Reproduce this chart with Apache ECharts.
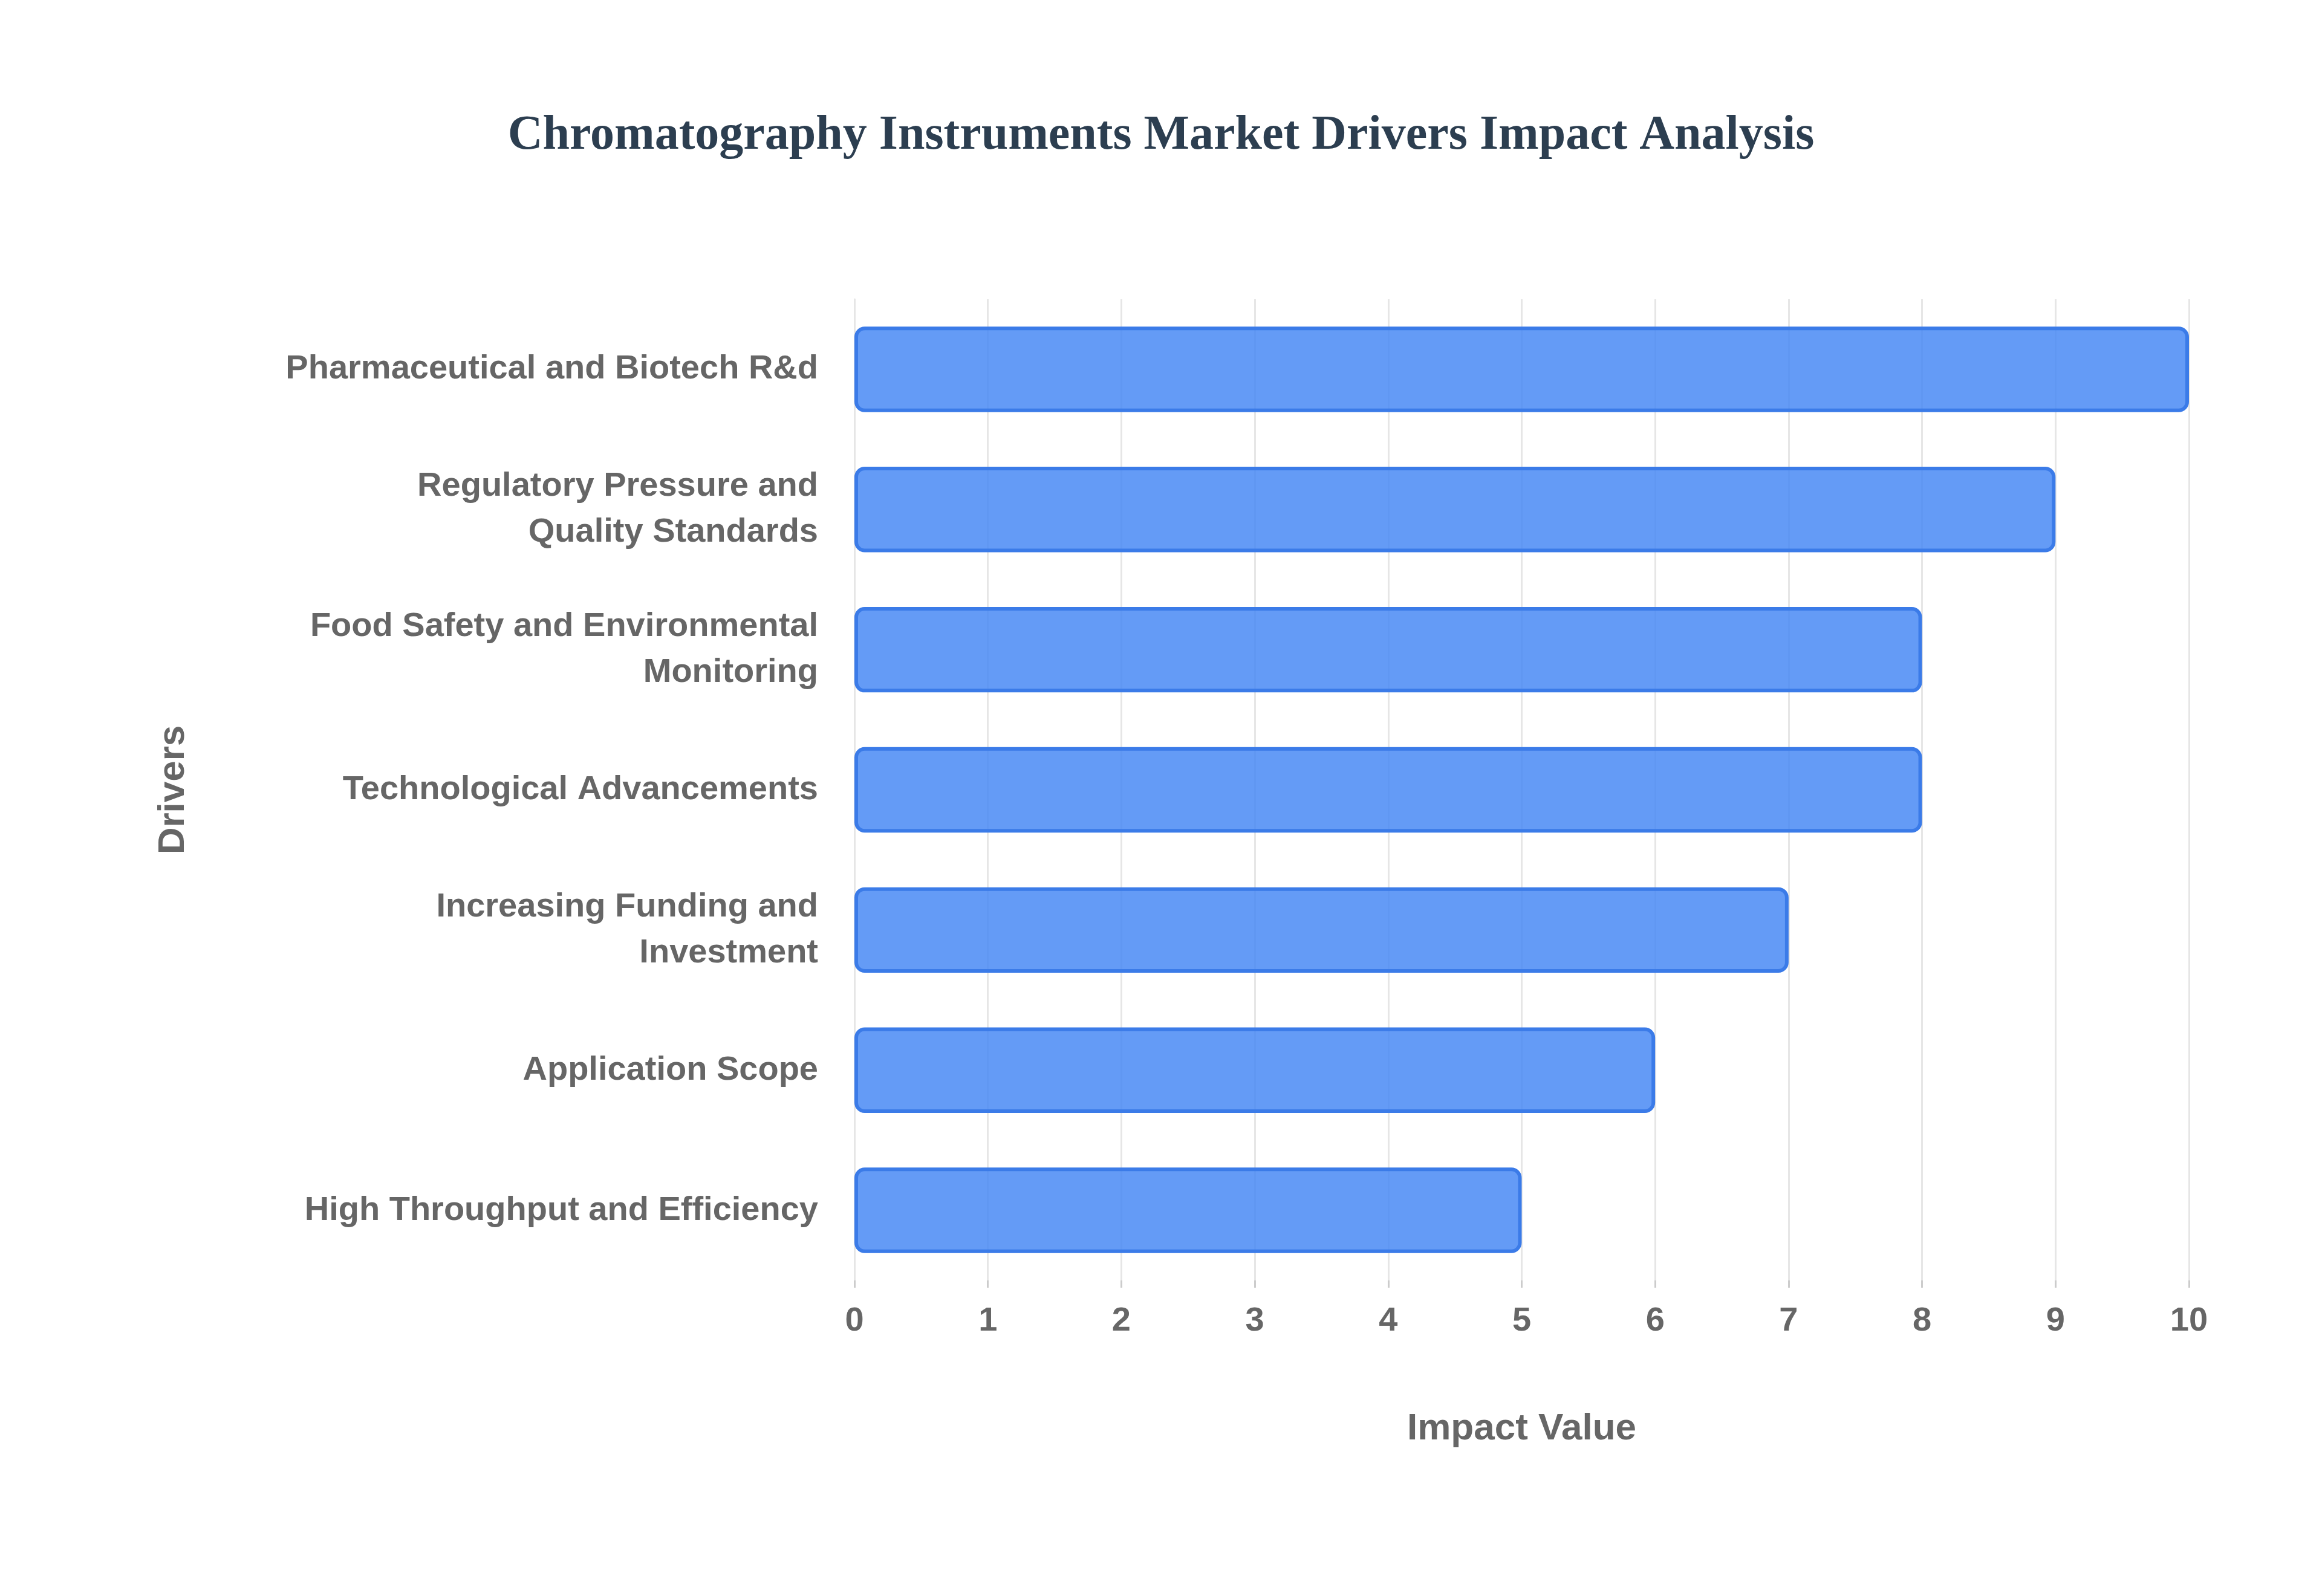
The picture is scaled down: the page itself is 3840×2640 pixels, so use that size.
<!DOCTYPE html>
<html>
<head>
<meta charset="utf-8">
<script src="https://cdn.jsdelivr.net/npm/echarts@6/dist/echarts.min.js"></script>
<style>html,body{margin:0;padding:0;background:#fff}#box{width:3840px;height:2640px}</style>
</head>
<body>
<div id="box"></div>
<script>
// data, bottom to top
var drivers = [
    'High Throughput and Efficiency',
    'Application Scope',
    'Increasing Funding and\nInvestment',
    'Technological Advancements',
    'Food Safety and Environmental\nMonitoring',
    'Regulatory Pressure and\nQuality Standards',
    'Pharmaceutical and Biotech R&d'
];
var impactValues = [5, 6, 7, 8, 8, 9, 10];
var xTicks = [0, 10, 1];

var chart = echarts.init(document.getElementById('box'));
var labelFont = {fontFamily: 'Liberation Sans', fontWeight: 'bold', color: '#666', fontSize: 56};
chart.setOption({
    backgroundColor: '#fff',
    title: {
        text: 'Chromatography Instruments Market Drivers Impact Analysis',
        left: 'center',
        top: 180,
        textStyle: {fontFamily: 'Liberation Serif', fontWeight: 'bold', fontSize: 80, color: '#2c3e50'}
    },
    grid: {left: 1413, right: 220, top: 495, bottom: 522},
    xAxis: {
        type: 'value',
        min: xTicks[0], max: xTicks[1], interval: xTicks[2],
        name: 'Impact Value',
        nameLocation: 'middle',
        nameGap: 215,
        nameTextStyle: Object.assign({}, labelFont, {fontSize: 62}),
        axisLabel: Object.assign({margin: 40}, labelFont),
        axisLine: {show: false},
        axisTick: {show: true, length: 12, lineStyle: {color: '#ccc', width: 3}},
        splitLine: {lineStyle: {color: '#e6e6e6', width: 3}}
    },
    yAxis: {
        type: 'category',
        data: drivers,
        name: 'Drivers',
        nameLocation: 'middle',
        nameGap: 1095,
        nameRotate: 90,
        nameTextStyle: Object.assign({}, labelFont, {fontSize: 62}),
        axisLabel: Object.assign({margin: 60, lineHeight: 76, align: 'right'}, labelFont),
        axisLine: {lineStyle: {color: '#e6e6e6', width: 3}},
        axisTick: {show: false}
    },
    series: [{
        type: 'bar',
        data: impactValues,
        barWidth: '61%',
        itemStyle: {color: 'rgba(66,133,244,0.82)', borderColor: '#3b7be8', borderWidth: 6, borderRadius: 14}
    }]
});
</script>
</body>
</html>
